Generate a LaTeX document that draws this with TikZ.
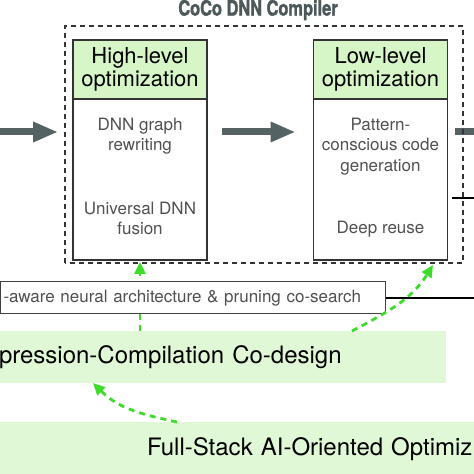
\documentclass[tikz,border=0pt]{standalone}
\usepackage{fontspec}
\setmainfont{TeX Gyre Heros}
\usetikzlibrary{arrows.meta,positioning}
\definecolor{headgreen}{RGB}{214,246,200}
\definecolor{bandgreen}{RGB}{224,248,214}
\definecolor{dashgreen}{RGB}{60,220,40}
\definecolor{slate}{RGB}{85,98,100}
\definecolor{textgray}{RGB}{80,80,80}

\begin{document}
\begin{tikzpicture}[x=1pt,y=1pt,
    headbox/.style={draw=black!80,line width=1.3pt,fill=headgreen,outer sep=0pt,inner sep=0pt,
      minimum width=134pt,minimum height=59pt,align=center,font=\fontsize{22}{23}\selectfont},
    bodybox/.style={draw=black!80,line width=1.3pt,outer sep=0pt,inner sep=0pt,
      minimum width=134pt,minimum height=161pt},
    bodytext/.style={align=center,text=textgray,inner sep=0pt,font=\fontsize{17}{20.5}\selectfont},
    band/.style={fill=bandgreen,outer sep=0pt,inner ysep=0pt,align=left,font=\fontsize{24}{26}\selectfont},
    bigarrow/.style={slate,line width=7pt,-{Triangle[length=25pt,width=19pt]}},
    greenarrow/.style={dashgreen,line width=2.8pt,dash pattern=on 6pt off 5pt,
      -{Triangle[length=12pt,width=11pt]}},
  ]
  \useasboundingbox (0,0) rectangle (474,474);
  \clip (0,0) rectangle (474,474);

  % green bands
  \node[band,anchor=south west,minimum height=54pt,text width=480pt,inner xsep=157pt] (fullstack) at (-10,-2) {Full-Stack AI-Oriented Optimiz};
  \node[band,anchor=west,minimum height=52pt,text width=438pt,inner xsep=9pt] (codesign) at (-10,117) {pression-Compilation Co-design};

  % compiler
  \node[headbox] (hlhead) at (140,404.5) {High-level\\optimization};
  \node[bodybox,below=0pt of hlhead] (hlbody) {};
  \node[headbox] (llhead) at (380.5,404.5) {Low-level\\optimization};
  \node[bodybox,below=0pt of llhead] (llbody) {};

  \node[bodytext] (rewrite) at (140,338) {DNN graph\\rewriting};
  \node[bodytext] (fusion) at (140,255.5) {Universal DNN\\fusion};
  \node[bodytext] (codegen) at (380.5,327.5) {Pattern-\\conscious code\\generation};
  \node[bodytext] (reuse) at (380.5,245) {Deep reuse};

  \node[minimum width=398pt,minimum height=237pt,outer sep=0pt] (compiler) at (264,329.5) {};
  \node[text=slate!90!black,font=\fontsize{21}{23}\selectfont\bfseries\addfontfeature{FakeBold=2}] (ctitle) at (258,464) {\scalebox{0.78}[1]{CoCo DNN Compiler}};

  \coordinate (input) at (0,342);
  \coordinate (output) at (510,342);
  \draw[bigarrow] (input) -- ([xshift=-7pt]compiler.west |- input);
  \draw[bigarrow] ([xshift=15pt]hlbody.east |- input) -- ([xshift=-18pt]llbody.west |- input);
  \draw[bigarrow] ([xshift=-8pt]compiler.east |- input) -- (output);

  \coordinate (sideline) at (480,276);
  \draw[line width=1.3pt] ([xshift=-11pt]compiler.east |- sideline) -- (sideline);
  \draw[black!80,line width=1.2pt,dash pattern=on 5pt off 4pt] (compiler.south west) rectangle (compiler.north east);

  \draw[greenarrow] (hlbody.south |- codesign.north) -- ([yshift=-2pt]hlbody.south);

  % co-search
  \node[draw=black!75,line width=1pt,fill=white,outer sep=0pt,anchor=west,text width=379pt,inner xsep=3pt,
    minimum height=32pt,align=left,text=textgray,font=\fontsize{17}{20}\selectfont] (cosearch) at (0.5,176)
    {-aware neural architecture \& pruning co-search};
  \draw[line width=1.3pt] (cosearch.east) -- (cosearch.east -| sideline);

  \draw[greenarrow] ([xshift=-94pt]codesign.north east) to[out=28,in=238] ([xshift=52.5pt,yshift=-5pt]llbody.south);
  \draw[greenarrow] ([xshift=187pt]fullstack.north west) to[out=168,in=-45] ([xshift=103pt]codesign.south west);
\end{tikzpicture}
\end{document}
